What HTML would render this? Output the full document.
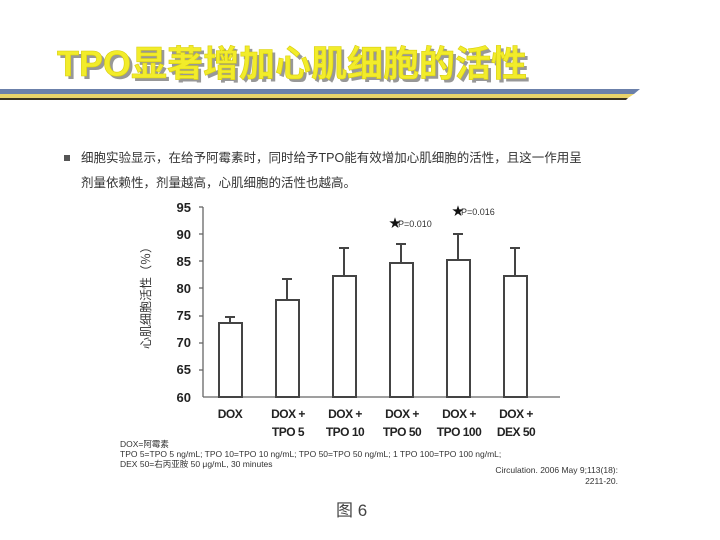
<!DOCTYPE html>
<html><head><meta charset="utf-8"><style>
body{margin:0;width:720px;height:540px;background:#fff;overflow:hidden}
svg{display:block}
</style></head><body>
<svg width="720" height="540" xmlns="http://www.w3.org/2000/svg" font-family="Liberation Sans, Noto Sans CJK SC, sans-serif">
<text x="60" y="79" font-size="36" font-weight="bold" fill="#555" opacity="0.6" font-family="Liberation Sans, Noto Sans CJK SC, sans-serif">TPO显著增加心肌细胞的活性</text>
<text x="57" y="76" font-size="36" font-weight="bold" fill="#f2ec2a" stroke="#d8cf10" stroke-width="0.6">TPO显著增加心肌细胞的活性</text>
<polygon points="0,89 640,89 634,94 0,94" fill="#6b80aa"/>
<polygon points="0,94 634,94 628,98 0,98" fill="#e8d36a"/>
<polygon points="0,98 628,98 626,100 0,100" fill="#3a3320"/>
<rect x="64" y="155" width="6" height="6" fill="#555"/>
<text x="81" y="162" font-size="12.5" fill="#333">细胞实验显示，在给予阿霉素时，同时给予TPO能有效增加心肌细胞的活性，且这一作用呈</text>
<text x="81" y="187" font-size="12.5" fill="#333">剂量依赖性，剂量越高，心肌细胞的活性也越高。</text>
<g font-weight="bold" font-size="13" fill="#222" text-anchor="end">
<text x="191" y="212">95</text><text x="191" y="239">90</text><text x="191" y="266">85</text><text x="191" y="293">80</text><text x="191" y="320">75</text><text x="191" y="347">70</text><text x="191" y="374">65</text><text x="191" y="402">60</text>
</g>
<g stroke="#666" stroke-width="1.3">
<line x1="203" y1="207" x2="203" y2="397"/><line x1="203" y1="397" x2="560" y2="397"/>
<line x1="199" y1="207" x2="203" y2="207"/><line x1="199" y1="234" x2="203" y2="234"/><line x1="199" y1="261" x2="203" y2="261"/><line x1="199" y1="288" x2="203" y2="288"/><line x1="199" y1="316" x2="203" y2="316"/><line x1="199" y1="343" x2="203" y2="343"/><line x1="199" y1="370" x2="203" y2="370"/>
</g>
<text transform="translate(150,295) rotate(-90)" font-size="12" fill="#333" text-anchor="middle">心肌细胞活性（％）</text>
<g fill="#fff" stroke="#444" stroke-width="2">
<line x1="230" y1="323" x2="230" y2="317"/><line x1="225" y1="317" x2="235" y2="317"/>
<line x1="287" y1="300" x2="287" y2="279"/><line x1="282" y1="279" x2="292" y2="279"/>
<line x1="344" y1="276" x2="344" y2="248"/><line x1="339" y1="248" x2="349" y2="248"/>
<line x1="401" y1="263" x2="401" y2="244"/><line x1="396" y1="244" x2="406" y2="244"/>
<line x1="458" y1="260" x2="458" y2="234"/><line x1="453" y1="234" x2="463" y2="234"/>
<line x1="515" y1="276" x2="515" y2="248"/><line x1="510" y1="248" x2="520" y2="248"/>
<rect x="219" y="323" width="23" height="74"/>
<rect x="276" y="300" width="23" height="97"/>
<rect x="333" y="276" width="23" height="121"/>
<rect x="390" y="263" width="23" height="134"/>
<rect x="447" y="260" width="23" height="137"/>
<rect x="504" y="276" width="23" height="121"/>
</g>
<text x="389" y="227" font-size="12" fill="#111">★</text><text x="398" y="227" font-size="9" fill="#333">P=0.010</text>
<text x="452" y="215" font-size="12" fill="#111">★</text><text x="461" y="215" font-size="9" fill="#333">P=0.016</text>
<g font-weight="bold" font-size="12" fill="#222" text-anchor="middle" letter-spacing="-0.5">
<text x="230" y="418">DOX</text>
<text x="288" y="418">DOX +</text><text x="288" y="436">TPO 5</text>
<text x="345" y="418">DOX +</text><text x="345" y="436">TPO 10</text>
<text x="402" y="418">DOX +</text><text x="402" y="436">TPO 50</text>
<text x="459" y="418">DOX +</text><text x="459" y="436">TPO 100</text>
<text x="516" y="418">DOX +</text><text x="516" y="436">DEX 50</text>
</g>
<g font-size="8.5" fill="#333">
<text x="120" y="447">DOX=阿霉素</text>
<text x="120" y="457">TPO 5=TPO 5 ng/mL; TPO 10=TPO 10 ng/mL; TPO 50=TPO 50 ng/mL; 1 TPO 100=TPO 100 ng/mL;</text>
<text x="120" y="467">DEX 50=右丙亚胺 50 μg/mL, 30 minutes</text>
<text x="618" y="473" text-anchor="end">Circulation. 2006 May 9;113(18):</text>
<text x="618" y="484" text-anchor="end">2211-20.</text>
</g>
<text x="336" y="516" font-size="17" fill="#444">图 6</text>
</svg>
</body></html>
